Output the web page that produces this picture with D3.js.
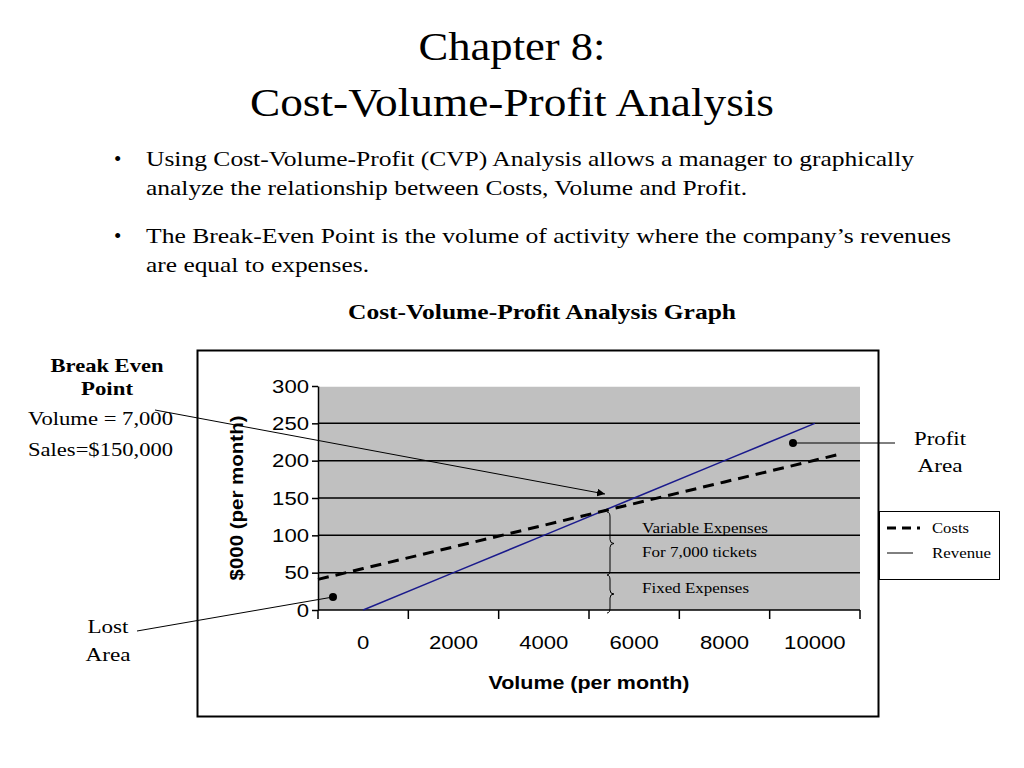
<!DOCTYPE html>
<html><head><meta charset="utf-8">
<script src="https://cdn.jsdelivr.net/npm/d3@7"></script>
<style>body{margin:0;background:#fff}svg{display:block}</style>
</head><body>
<script>
const title = ['Chapter 8:', 'Cost-Volume-Profit Analysis'];
const titleWidths = [187, 524];
const bullets = [
  ['Using Cost-Volume-Profit (CVP) Analysis allows a manager to graphically', 'analyze the relationship between Costs, Volume and Profit.'],
  ['The Break-Even Point is the volume of activity where the company\u2019s revenues', 'are equal to expenses.']
];
const bulletWidths = [[768, 601], [805, 223]];
const xTicks = [0, 2000, 4000, 6000, 8000, 10000];
const yTicks = [0, 50, 100, 150, 200, 250, 300];
const revVolume = [0, 2000, 4000, 6000, 8000, 10000];
const revValues = [0, 50, 100, 150, 200, 250];
const costVolume = [-1000, 0, 2000, 4000, 6000, 8000, 10000, 10500];
const costValues = [41, 55.5, 84.5, 113.5, 142.5, 171.5, 200.5, 208];

const W = 1024, H = 768;
const svg = d3.select('body').append('svg').attr('width', W).attr('height', H);
const serif = 'Liberation Serif, Times New Roman, serif';
const sans = 'Liberation Sans, Arial, sans-serif';

// text helper, optional width stretches glyphs to match the picture
function txt(g, x, y, s, font, size, opts = {}) {
  const t = g.append('text').attr('x', x).attr('y', y).attr('font-family', font)
      .attr('font-size', size).attr('text-anchor', opts.anchor || 'start').text(s);
  if (opts.bold) t.attr('font-weight', 'bold');
  if (opts.width) t.attr('textLength', opts.width).attr('lengthAdjust', 'spacingAndGlyphs');
  if (opts.transform) t.attr('transform', opts.transform);
  return t;
}

// heading
title.forEach((s, i) => txt(svg, 512, 60 + i * 56, s, serif, 40, {anchor: 'middle', width: titleWidths[i]}));

bullets.forEach((b, i) => {
  const y0 = 166 + i * 77;
  txt(svg, 114, y0, '\u2022', serif, 21);
  b.forEach((line, j) => txt(svg, 146, y0 + j * 29, line, serif, 21, {width: bulletWidths[i][j]}));
});

txt(svg, 542, 319, 'Cost-Volume-Profit Analysis Graph', serif, 21, {anchor: 'middle', bold: true, width: 388});

// chart frame
svg.append('rect').attr('x', 197.5).attr('y', 350.5).attr('width', 681).attr('height', 366)
    .attr('fill', '#fff').attr('stroke', '#000').attr('stroke-width', 2);

const plot = {left: 318, right: 860, top: 386, bottom: 610};
const x = d3.scaleLinear().domain([-1000, 11000]).range([plot.left, plot.right]);
const y = d3.scaleLinear().domain([0, 300]).range([plot.bottom, plot.top]);

svg.append('rect').attr('x', plot.left).attr('y', plot.top)
    .attr('width', plot.right - plot.left).attr('height', plot.bottom - plot.top).attr('fill', '#c0c0c0');

svg.append('g').selectAll('line').data(yTicks.slice(1)).enter().append('line')
    .attr('x1', plot.left).attr('x2', plot.right).attr('y1', d => y(d)).attr('y2', d => y(d))
    .attr('stroke', d => d === 300 ? '#fff' : '#000').attr('stroke-width', 1.5);

const yAxis = svg.append('g').attr('transform', `translate(${plot.left},0)`)
    .call(d3.axisLeft(y).tickValues(yTicks).tickSize(6).tickSizeOuter(0));
yAxis.selectAll('text').attr('font-family', sans).attr('font-size', 19).attr('fill', '#000')
    .attr('x', -9).attr('textLength', d => String(d).length * 12.3).attr('lengthAdjust', 'spacingAndGlyphs');
yAxis.selectAll('line,path').attr('stroke', '#000').attr('stroke-width', 1.5);

// x axis: category-style, ticks between labels
const xBorders = d3.range(-1000, 11001, 2000);
const xa = svg.append('g').attr('transform', `translate(0,${plot.bottom})`);
xa.append('line').attr('x1', plot.left).attr('x2', plot.right).attr('stroke', '#000').attr('stroke-width', 1.5);
xa.selectAll('line.t').data(xBorders).enter().append('line')
    .attr('x1', d => x(d)).attr('x2', d => x(d)).attr('y1', 0).attr('y2', 9)
    .attr('stroke', '#000').attr('stroke-width', 1.5);
xa.selectAll('text').data(xTicks).enter().append('text')
    .attr('x', d => x(d)).attr('y', 39).attr('text-anchor', 'middle')
    .attr('font-family', sans).attr('font-size', 19)
    .attr('textLength', d => String(d).length * 12.3).attr('lengthAdjust', 'spacingAndGlyphs')
    .text(d => d);

txt(svg, 589, 689, 'Volume (per month)', sans, 19, {anchor: 'middle', bold: true, width: 201});
txt(svg, 0, 0, '$000 (per month)', sans, 19, {anchor: 'middle', bold: true, width: 165,
  transform: 'translate(243,498) rotate(-90)'});

// lines
const line = d3.line().x(d => x(d[0])).y(d => y(d[1]));
svg.append('path').attr('d', line(d3.zip(revVolume, revValues)))
    .attr('fill', 'none').attr('stroke', '#1a1a8c').attr('stroke-width', 1.5);
svg.append('path').attr('d', line(d3.zip(costVolume, costValues)))
    .attr('fill', 'none').attr('stroke', '#000').attr('stroke-width', 3).attr('stroke-dasharray', '11,7');

// braces
function brace(x0, y0, y1) {
  const m = (y0 + y1) / 2;
  return `M${x0 - 3},${y0} Q${x0},${y0} ${x0},${y0 + 5} L${x0},${m - 4} Q${x0},${m} ${x0 + 4},${m}` +
    ` Q${x0},${m} ${x0},${m + 4} L${x0},${y1 - 5} Q${x0},${y1} ${x0 - 3},${y1}`;
}
svg.append('path').attr('d', brace(610, 512, 575)).attr('fill', 'none').attr('stroke', '#000').attr('stroke-width', 1);
svg.append('path').attr('d', brace(610, 575, 613)).attr('fill', 'none').attr('stroke', '#000').attr('stroke-width', 1);
[['Variable Expenses', 533, 126], ['For 7,000 tickets', 557, 115], ['Fixed Expenses', 593, 107]].forEach(t => {
  txt(svg, 642, t[1], t[0], serif, 14, {width: t[2]});
});

// legend
svg.append('rect').attr('x', 879.5).attr('y', 511.5).attr('width', 120).attr('height', 68)
    .attr('fill', '#fff').attr('stroke', '#000');
svg.append('line').attr('x1', 887).attr('x2', 920).attr('y1', 528).attr('y2', 528)
    .attr('stroke', '#000').attr('stroke-width', 3).attr('stroke-dasharray', '9,6');
svg.append('line').attr('x1', 887).attr('x2', 913).attr('y1', 553).attr('y2', 553).attr('stroke', '#000');
txt(svg, 932, 533, 'Costs', serif, 15, {width: 37});
txt(svg, 932, 558, 'Revenue', serif, 15, {width: 59});

// annotations
txt(svg, 107, 372, 'Break Even', serif, 19, {anchor: 'middle', bold: true, width: 113});
txt(svg, 107, 395, 'Point', serif, 19, {anchor: 'middle', bold: true, width: 52});
txt(svg, 28, 425, 'Volume = 7,000', serif, 19, {width: 145});
txt(svg, 28, 456, 'Sales=$150,000', serif, 19, {width: 145});
txt(svg, 108, 633, 'Lost', serif, 19, {anchor: 'middle', width: 41});
txt(svg, 108, 661, 'Area', serif, 19, {anchor: 'middle', width: 45});
txt(svg, 940, 445, 'Profit', serif, 19, {anchor: 'middle', width: 52});
txt(svg, 940, 472, 'Area', serif, 19, {anchor: 'middle', width: 45});

svg.append('defs').append('marker').attr('id', 'arr').attr('viewBox', '0 0 10 10')
    .attr('refX', 10).attr('refY', 5).attr('markerWidth', 8).attr('markerHeight', 8).attr('orient', 'auto')
    .append('path').attr('d', 'M0,0 L10,5 L0,10 z').attr('fill', '#000');
svg.append('line').attr('x1', 155).attr('y1', 410).attr('x2', 605).attr('y2', 494)
    .attr('stroke', '#000').attr('marker-end', 'url(#arr)');
svg.append('line').attr('x1', 137).attr('y1', 631).attr('x2', 333).attr('y2', 597).attr('stroke', '#000');
svg.append('circle').attr('cx', 333).attr('cy', 597).attr('r', 4).attr('fill', '#000');
svg.append('line').attr('x1', 793).attr('y1', 443).attr('x2', 895).attr('y2', 443).attr('stroke', '#000');
svg.append('circle').attr('cx', 793).attr('cy', 443).attr('r', 4).attr('fill', '#000');
</script>
</body></html>
